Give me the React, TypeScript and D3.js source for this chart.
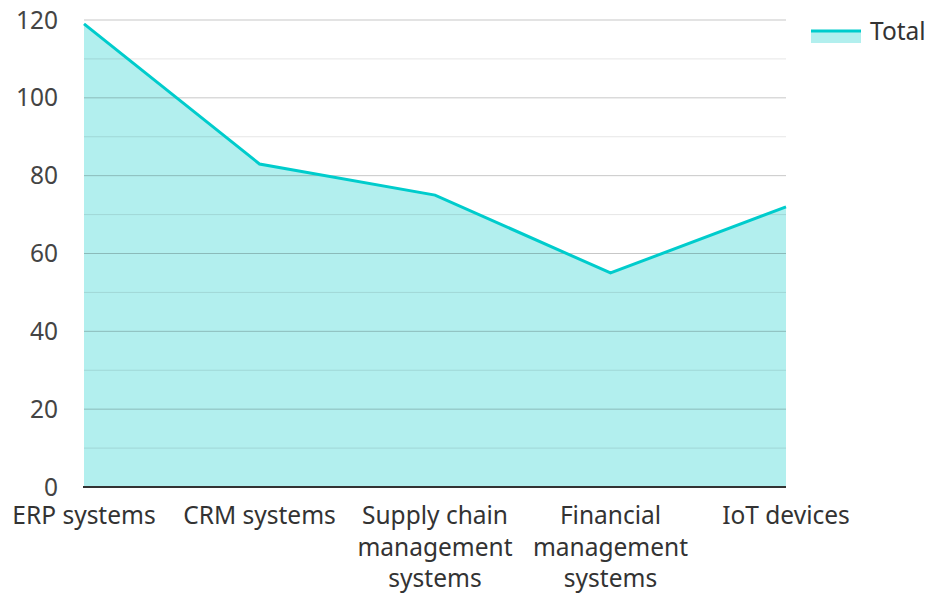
import { useMemo } from "react";
import * as d3 from "d3";

const categories = [
  ["ERP systems"],
  ["CRM systems"],
  ["Supply chain", "management", "systems"],
  ["Financial", "management", "systems"],
  ["IoT devices"],
];
const totals = [119, 83, 75, 55, 72];
const yTicks = [0, 20, 40, 60, 80, 100, 120];
const yMinor = [10, 30, 50, 70, 90, 110];

const W = 927;
const H = 593;
const m = { top: 20, right: 141, bottom: 106, left: 84 };
const FONT = "'Noto Sans', 'Open Sans', sans-serif";
const FS = 24.5;
const LINE = "#00cccc";
const FILL = "#b2efee";

export default function App() {
  const w = W - m.left - m.right;
  const h = H - m.top - m.bottom;

  const x = useMemo(
    () => d3.scalePoint<number>().domain(d3.range(categories.length)).range([0, w]),
    [w]
  );
  const y = useMemo(() => d3.scaleLinear().domain([0, 120]).range([h, 0]), [h]);

  const area = d3
    .area<number>()
    .x((_, i) => x(i)!)
    .y0(h)
    .y1((d) => y(d));
  const line = d3
    .line<number>()
    .x((_, i) => x(i)!)
    .y((d) => y(d));

  return (
    <svg width={W} height={H} style={{ display: "block", position: "absolute", left: 0, top: 0 }}>
      <g transform={`translate(${m.left},${m.top})`}>
        <path d={area(totals)!} fill={FILL} />
        {yMinor.map((t) => (
          <line key={"n" + t} x1={0} x2={w} y1={y(t)} y2={y(t)} stroke="#000" strokeOpacity={0.1} strokeWidth={1} />
        ))}
        {yTicks.filter((t) => t > 0).map((t) => (
          <line key={"g" + t} x1={0} x2={w} y1={y(t)} y2={y(t)} stroke="#000" strokeOpacity={0.22} strokeWidth={1} />
        ))}
        <path d={line(totals)!} fill="none" stroke={LINE} strokeWidth={3} strokeLinejoin="miter" />
        <line x1={-1} x2={w} y1={h} y2={h} stroke="#333" strokeWidth={2} />
        {yTicks.map((t) => (
          <text
            key={"t" + t}
            x={-26}
            y={y(t)}
            dy="0.35em"
            textAnchor="end"
            fontFamily={FONT}
            fontSize={FS}
            fill="#444"
          >
            {t}
          </text>
        ))}
        {categories.map((lines, i) => (
          <text key={i} x={x(i)} y={h + 37} textAnchor="middle" fontFamily={FONT} fontSize={FS} fill="#333">
            {lines.map((s, j) => (
              <tspan key={j} x={x(i)} dy={j === 0 ? 0 : 31.5}>
                {s}
              </tspan>
            ))}
          </text>
        ))}
      </g>
      <g transform="translate(811,31)">
        <rect x={0} y={0} width={50} height={12} fill={FILL} />
        <line x1={0} x2={50} y1={0} y2={0} stroke={LINE} strokeWidth={3} />
        <text x={59} y={0} dy="0.35em" fontFamily={FONT} fontSize={FS} fill="#333">
          Total
        </text>
      </g>
    </svg>
  );
}
